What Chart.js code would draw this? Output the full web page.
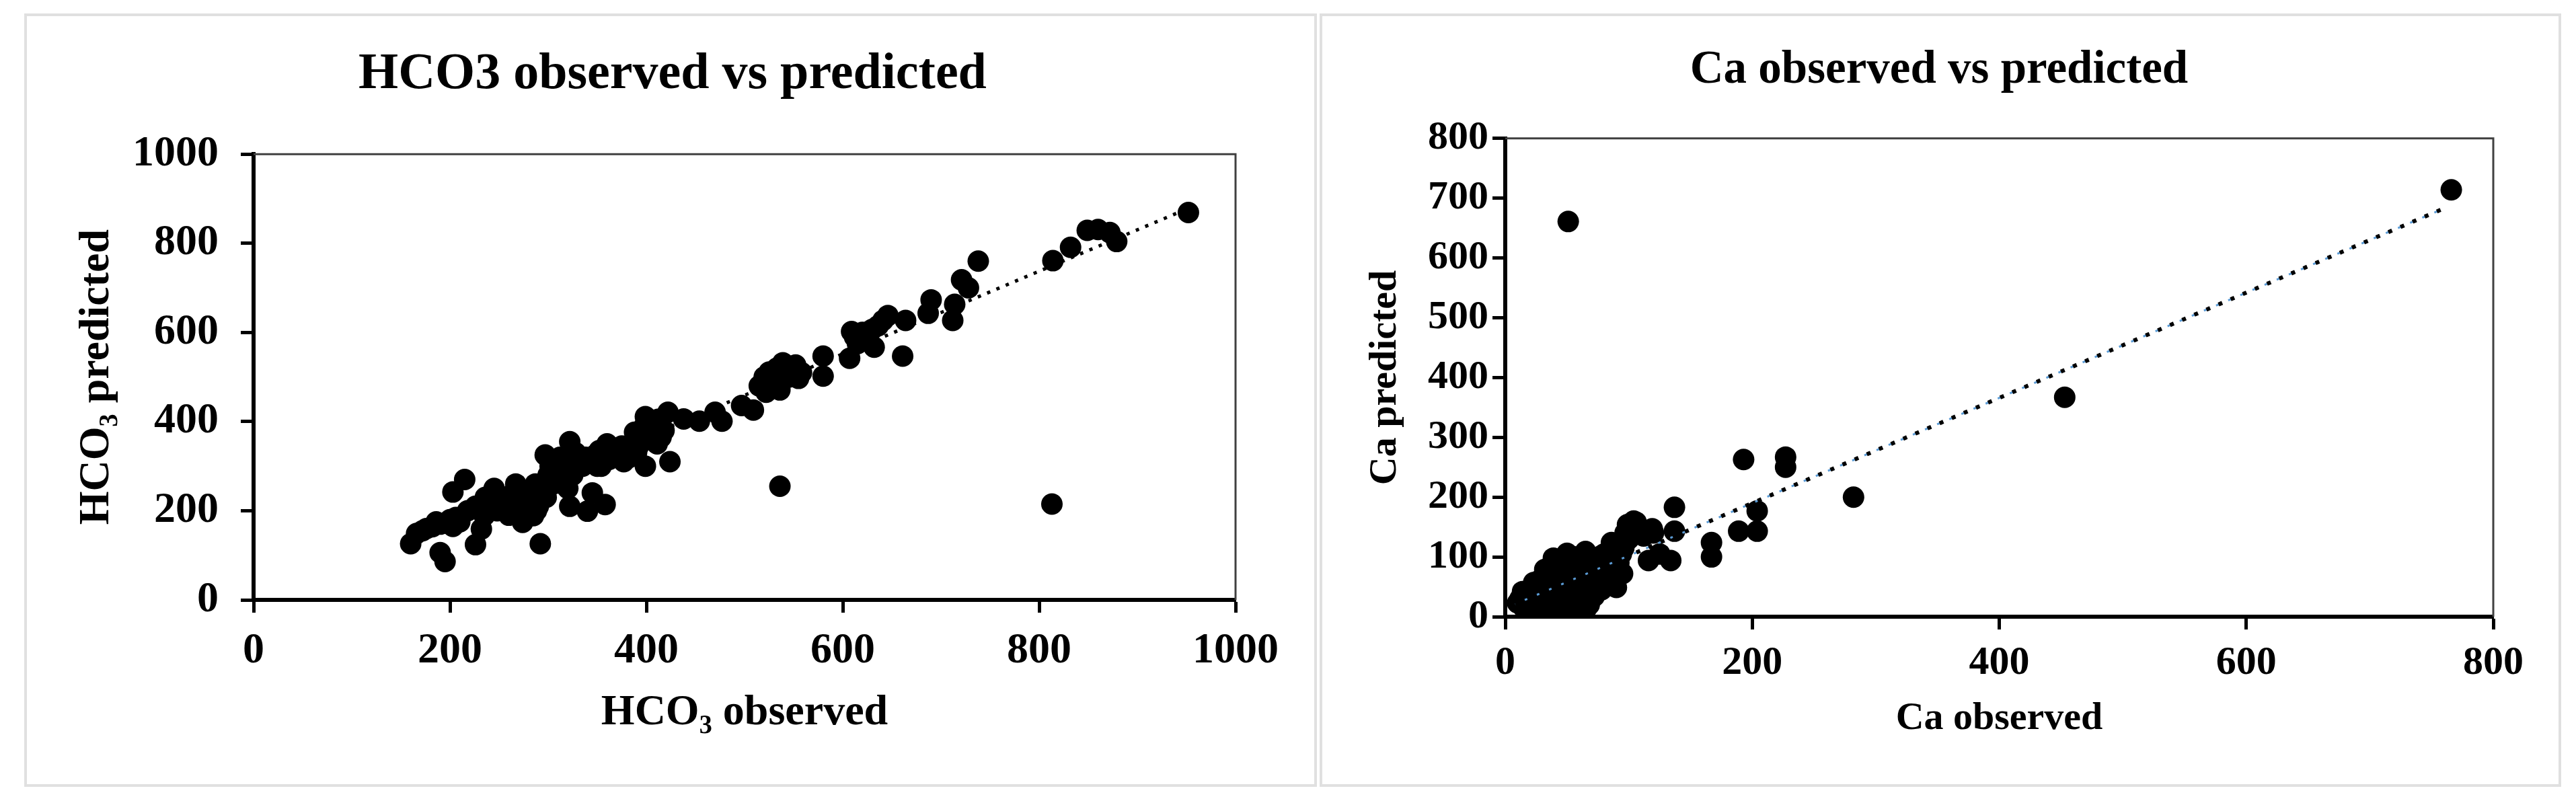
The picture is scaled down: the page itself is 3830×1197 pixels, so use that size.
<!DOCTYPE html>
<html>
<head>
<meta charset="utf-8">
<title>Observed vs predicted</title>
<script src="https://cdn.jsdelivr.net/npm/chart.js@4.4.1/dist/chart.umd.min.js"></script>
<style>
  html, body { margin: 0; padding: 0; background: #fff; }
  body { position: relative; width: 3830px; height: 1197px; overflow: hidden; }
  .panel { position: absolute; box-sizing: border-box; border: 4px solid #e0e0e0; }
  canvas { position: absolute; top: 0; }
</style>
</head>
<body>
<div class="panel" style="left:36px; top:20px; width:1922px; height:1150px;"></div>
<div class="panel" style="left:1962px; top:20px; width:1846px; height:1150px;"></div>
<canvas id="hco3Chart" width="1960" height="1197" style="left:0;"></canvas>
<canvas id="caChart" width="1870" height="1197" style="left:1960px;"></canvas>
<script>
// HCO3 values
const hco3Observed = [160, 166, 172, 176, 182, 186, 190, 196, 200, 203, 190, 195, 203, 206, 210, 215, 218, 226, 226, 232,
  235, 236, 240, 242, 244, 245, 248, 250, 253, 255, 258, 260, 262, 265, 267, 270, 272, 274, 276, 278,
  280, 283, 285, 287, 288, 290, 292, 294, 297, 298, 300, 302, 305, 308, 310, 312, 315, 318, 320, 320,
  322, 322, 325, 328, 331, 335, 338, 340, 342, 345, 348, 350, 352, 354, 356, 358, 360, 362, 365, 368,
  370, 372, 375, 377, 380, 383, 386, 388, 390, 392, 395, 398, 399, 399, 402, 405, 408, 411, 412, 415,
  418, 422, 424, 438, 454, 470, 477, 497, 509, 515, 520, 522, 525, 528, 530, 533, 536, 539, 541, 545,
  548, 552, 555, 558, 580, 580, 609, 607, 612, 615, 620, 630, 632, 636, 641, 646, 661, 664, 687, 690,
  712, 714, 721, 728, 738, 814, 832, 849, 860, 872, 879, 952, 536, 813];
const hco3Predicted = [126, 149, 155, 160, 164, 175, 170, 172, 180, 165, 106, 86, 242, 185, 175, 270, 200, 124, 210, 159,
  189, 230, 215, 205, 235, 250, 200, 228, 220, 210, 199, 190, 235, 225, 260, 215, 240, 174, 220, 205,
  240, 230, 189, 260, 200, 210, 126, 245, 325, 230, 280, 300, 260, 300, 275, 320, 260, 300, 290, 250,
  355, 210, 280, 330, 320, 300, 320, 199, 310, 240, 325, 300, 335, 300, 310, 214, 350, 315, 320, 340,
  330, 325, 345, 310, 335, 320, 350, 376, 330, 345, 360, 390, 300, 411, 380, 360, 395, 350, 405, 365,
  380, 421, 310, 406, 401, 421, 401, 436, 426, 480, 500, 466, 511, 505, 490, 520, 471, 532, 515, 500,
  520, 527, 497, 510, 547, 502, 602, 542, 590, 575, 600, 607, 567, 615, 627, 638, 547, 627, 643, 673,
  627, 663, 718, 700, 760, 761, 791, 829, 831, 824, 804, 869, 255, 215];
const hco3Ticks = [0, 200, 400, 600, 800, 1000];
const hco3Trend = { slope: 0.928, intercept: -5, from: 160, to: 950 };

// Ca values
const caObserved = [10, 12, 14, 15, 16, 18, 19, 20, 20, 21, 22, 23, 24, 25, 26, 27, 28, 28, 29, 30,
  31, 32, 32, 33, 34, 35, 35, 36, 37, 38, 39, 40, 40, 41, 42, 42, 43, 44, 45, 45,
  46, 47, 48, 49, 50, 50, 51, 52, 52, 53, 54, 55, 56, 57, 58, 58, 59, 60, 60, 61,
  62, 63, 64, 65, 65, 66, 66, 67, 68, 69, 70, 71, 72, 72, 74, 75, 76, 78, 79, 80,
  82, 83, 85, 86, 87, 88, 90, 91, 92, 94, 95, 96, 97, 99, 100, 102, 104, 106, 108, 110,
  112, 116, 119, 120, 125, 134, 137, 137, 167, 167, 189, 193, 204, 204, 227, 227, 282, 453, 766, 51];
const caPredicted = [23, 30, 42, 15, 25, 20, 40, 35, 12, 28, 50, 57, 45, 10, 28, 60, 45, 15, 38, 65,
  50, 79, 12, 70, 25, 40, 5, 55, 62, 88, 98, 70, 80, 5, 30, 92, 18, 50, 85, 3,
  15, 70, 95, 55, 106, 12, 40, 62, 95, 80, 45, 25, 100, 85, 5, 30, 19, 50, 8, 65,
  90, 70, 85, 109, 35, 55, 15, 100, 20, 75, 60, 45, 34, 95, 65, 80, 100, 45, 90, 105,
  80, 53, 100, 124, 110, 70, 49, 120, 90, 105, 72, 115, 140, 154, 130, 150, 160, 158, 145, 140,
  135, 94, 147, 140, 105, 94, 143, 183, 124, 100, 143, 263, 143, 177, 267, 250, 200, 367, 714, 661];
const caXTicks = [0, 200, 400, 600, 800];
const caYTicks = [0, 100, 200, 300, 400, 500, 600, 700, 800];
const caTrend = { slope: 0.88, intercept: 14, from: 8, to: 762 };

const serif = "'Liberation Serif', 'Times New Roman', serif";

function toPoints(xs, ys) {
  return xs.map((x, i) => ({ x: x, y: ys[i] }));
}
function trendPoints(t) {
  return [t.from, t.to].map(x => ({ x: x, y: t.slope * x + t.intercept }));
}
function fixedTicks(values) {
  return scale => { scale.ticks = values.map(v => ({ value: v })); };
}

// top and right edges of the plot box
const plotFrame = {
  id: 'plotFrame',
  beforeDatasetsDraw(chart) {
    const { ctx, chartArea: { left, top, right, bottom } } = chart;
    ctx.save();
    ctx.strokeStyle = '#404040';
    ctx.lineWidth = 3;
    ctx.beginPath();
    ctx.moveTo(left, top);
    ctx.lineTo(right, top);
    ctx.lineTo(right, bottom);
    ctx.stroke();
    ctx.restore();
  }
};

function axis(min, max, ticks, size, pad, titleText, titleSize, titlePad, fit) {
  return {
    type: 'linear',
    min: min,
    max: max,
    afterBuildTicks: fixedTicks(ticks),
    ticks: { color: '#000', padding: pad, maxRotation: 0, autoSkip: false, callback: v => String(v),
      font: { family: serif, size: size, weight: 'bold' } },
    grid: { drawOnChartArea: false, drawTicks: true, tickLength: 19, tickWidth: 5, tickColor: '#000' },
    border: { display: true, color: '#000', width: 6 },
    title: { display: true, text: titleText, color: '#000', padding: titlePad, font: { family: serif, size: titleSize, weight: 'bold' } },
    afterFit: fit
  };
}

Chart.defaults.animation = false;

const hco3Chart = new Chart(document.getElementById('hco3Chart'), {
  type: 'scatter',
  data: {
    datasets: [
      { type: 'line', data: trendPoints(hco3Trend), borderColor: '#000', borderWidth: 5, borderDash: [5, 10],
        pointRadius: 0, fill: false, order: 0 },
      { data: toPoints(hco3Observed, hco3Predicted), backgroundColor: '#000', borderWidth: 0, pointRadius: 16,
        pointHoverRadius: 16, order: 1 }
    ]
  },
  options: {
    responsive: false,
    layout: { padding: { left: 163, right: 123, top: 0, bottom: 0 } },
    plugins: {
      legend: { display: false },
      tooltip: { enabled: false },
      title: { display: true, text: 'HCO3 observed vs predicted', color: '#000', padding: { top: 66, bottom: 72 },
        font: { family: serif, size: 76, weight: 'bold' } }
    },
    scales: {
      x: axis(0, 1000, hco3Ticks, 64, 19, 'HCO₃ observed', 64, { top: 0, bottom: 98 }, s => { s.height = 305; }),
      y: axis(0, 1000, hco3Ticks, 64, 33, 'HCO₃ predicted', 64, { top: -57, bottom: 0 }, s => { s.width = 214; })
    }
  },
  plugins: [plotFrame]
});

const caChart = new Chart(document.getElementById('caChart'), {
  type: 'scatter',
  data: {
    datasets: [
      // dotted black trend line over a light blue one
      { type: 'line', data: trendPoints(caTrend), borderColor: '#000', borderWidth: 6, borderDash: [6, 13.6],
        pointRadius: 0, fill: false, order: 0 },
      { type: 'line', data: trendPoints(caTrend), borderColor: '#5b9bd5', borderWidth: 3, borderDash: [8, 11.6],
        borderDashOffset: 4, pointRadius: 0, fill: false, order: 1 },
      { data: toPoints(caObserved, caPredicted), backgroundColor: '#000', borderWidth: 0, pointRadius: 16,
        pointHoverRadius: 16, order: 2 }
    ]
  },
  options: {
    responsive: false,
    layout: { padding: { left: 99, right: 123, top: 0, bottom: 0 } },
    plugins: {
      legend: { display: false },
      tooltip: { enabled: false },
      title: { display: true, text: 'Ca observed vs predicted', color: '#000', padding: { top: 64, bottom: 59 },
        font: { family: serif, size: 69, weight: 'bold' } }
    },
    scales: {
      x: axis(0, 800, caXTicks, 60, 14, 'Ca observed', 58, { top: 0, bottom: 93 }, s => { s.height = 280; }),
      y: axis(0, 800, caYTicks, 60, 6, 'Ca predicted', 58, { top: -34, bottom: 0 }, s => { s.width = 179; })
    }
  },
  plugins: [plotFrame]
});
</script>
</body>
</html>
